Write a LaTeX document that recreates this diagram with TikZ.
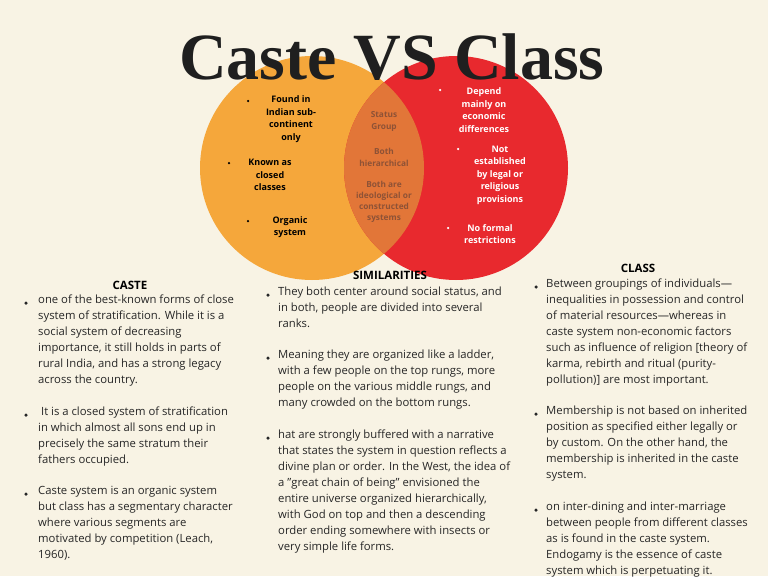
\documentclass[tikz,border=0pt]{standalone}
\usepackage{fontspec}
\setmainfont{Open Sans}
\newfontfamily\titlefont{Liberation Serif}
\definecolor{bg}{HTML}{F8F3E4}
\definecolor{orng}{HTML}{F5A73B}
\definecolor{redc}{HTML}{E8292E}
\definecolor{mixc}{HTML}{E27638}
\definecolor{midtxt}{HTML}{8E5236}
\begin{document}
\begin{tikzpicture}[x=1pt,y=-1pt,
  body/.style={anchor=north west,align=left,inner sep=0pt,font=\fontsize{11.3}{16}\selectfont,text=black!85},
  bul/.style={circle,fill=black!85,inner sep=0pt,minimum size=3.5pt},
  ctext/.style={align=center,inner sep=0pt,font=\bfseries\fontsize{9}{12.5}\selectfont},
  cbul/.style={circle,inner sep=0pt,minimum size=2.5pt},
  head/.style={inner sep=0pt,font=\bfseries\fontsize{11.5}{14}\selectfont}]
\fill[bg] (0,0) rectangle (768,576);
\useasboundingbox (0,0) rectangle (768,576);
\fill[orng] (312,168) circle (112);
\fill[redc] (456,168) circle (112);
\begin{scope}
\clip (312,168) circle (112);
\fill[mixc] (456,168) circle (112);
\end{scope}
\node[inner sep=0pt,font=\titlefont\bfseries\fontsize{66}{70}\selectfont,text=black!88] (title) at (392,57) {Caste VS Class};
% left circle
\node[ctext] (l1) at (291,119) {Found in\\Indian sub-\\continent\\only};
\node[cbul,fill=black] (lb1) at (248,101) {};
\node[ctext] (l2) at (270,175) {Known as\\closed\\classes};
\node[cbul,fill=black] (lb2) at (229,163) {};
\node[ctext] (l3) at (290,227) {Organic\\system};
\node[cbul,fill=black] (lb3) at (248,221) {};
% overlap
\node[ctext,text=midtxt,font=\bfseries\fontsize{8.3}{12}\selectfont] (m1) at (384,121) {Status\\Group};
\node[ctext,text=midtxt,font=\bfseries\fontsize{8.3}{12}\selectfont] (m2) at (384,157) {Both\\hierarchical};
\node[ctext,text=midtxt,font=\bfseries\fontsize{8.3}{11}\selectfont] (m3) at (384,202) {Both are\\ideological or\\constructed\\systems};
% right circle
\node[ctext,text=white] (r1) at (484,110) {Depend\\mainly on\\economic\\differences};
\node[cbul,fill=white] (rb1) at (440,90) {};
\node[ctext,text=white] (r2) at (500,175) {Not\\established\\by legal or\\religious\\provisions};
\node[cbul,fill=white] (rb2) at (458,149) {};
\node[ctext,text=white] (r3) at (490,234) {No formal\\restrictions};
\node[cbul,fill=white] (rb3) at (448,228) {};
% headings
\node[head] (h1) at (130,285) {CASTE};
\node[head] (h2) at (390,275) {SIMILARITIES};
\node[head] (h3) at (638,268) {CLASS};
% left column
\node[bul] at (26,303) {};
\node[body] (c1) at (38,295) {one of the best-known forms of close\\system of stratification. While it is a\\social system of decreasing\\importance, it still holds in parts of\\rural India, and has a strong legacy\\across the country.};
\node[bul] at (26,415) {};
\node[body] (c2) at (38,407) {\ It is a closed system of stratification\\in which almost all sons end up in\\precisely the same stratum their\\fathers occupied.};
\node[bul] at (26,494) {};
\node[body] (c3) at (38,486) {Caste system is an organic system\\but class has a segmentary character\\where various segments are\\motivated by competition (Leach,\\1960).};
% middle column
\node[bul] at (268,295) {};
\node[body] (s1) at (278,287) {They both center around social status, and\\in both, people are divided into several\\ranks.};
\node[bul] at (268,358) {};
\node[body] (s2) at (278,350) {Meaning they are organized like a ladder,\\with a few people on the top rungs, more\\people on the various middle rungs, and\\many crowded on the bottom rungs.};
\node[bul] at (268,438) {};
\node[body] (s3) at (278,430) {hat are strongly buffered with a narrative\\that states the system in question reflects a\\divine plan or order. In the West, the idea of\\a "great chain of being" envisioned the\\entire universe organized hierarchically,\\with God on top and then a descending\\order ending somewhere with insects or\\very simple life forms.};
% right column
\node[bul] at (536,287) {};
\node[body] (k1) at (546,279) {Between groupings of individuals—\\inequalities in possession and control\\of material resources—whereas in\\caste system non-economic factors\\such as influence of religion [theory of\\karma, rebirth and ritual (purity-\\pollution)] are most important.};
\node[bul] at (536,414) {};
\node[body] (k2) at (546,406) {Membership is not based on inherited\\position as specified either legally or\\by custom. On the other hand, the\\membership is inherited in the caste\\system.};
\node[bul] at (536,510) {};
\node[body] (k3) at (546,502) {on inter-dining and inter-marriage\\between people from different classes\\as is found in the caste system.\\Endogamy is the essence of caste\\system which is perpetuating it.};
\end{tikzpicture}
\end{document}
